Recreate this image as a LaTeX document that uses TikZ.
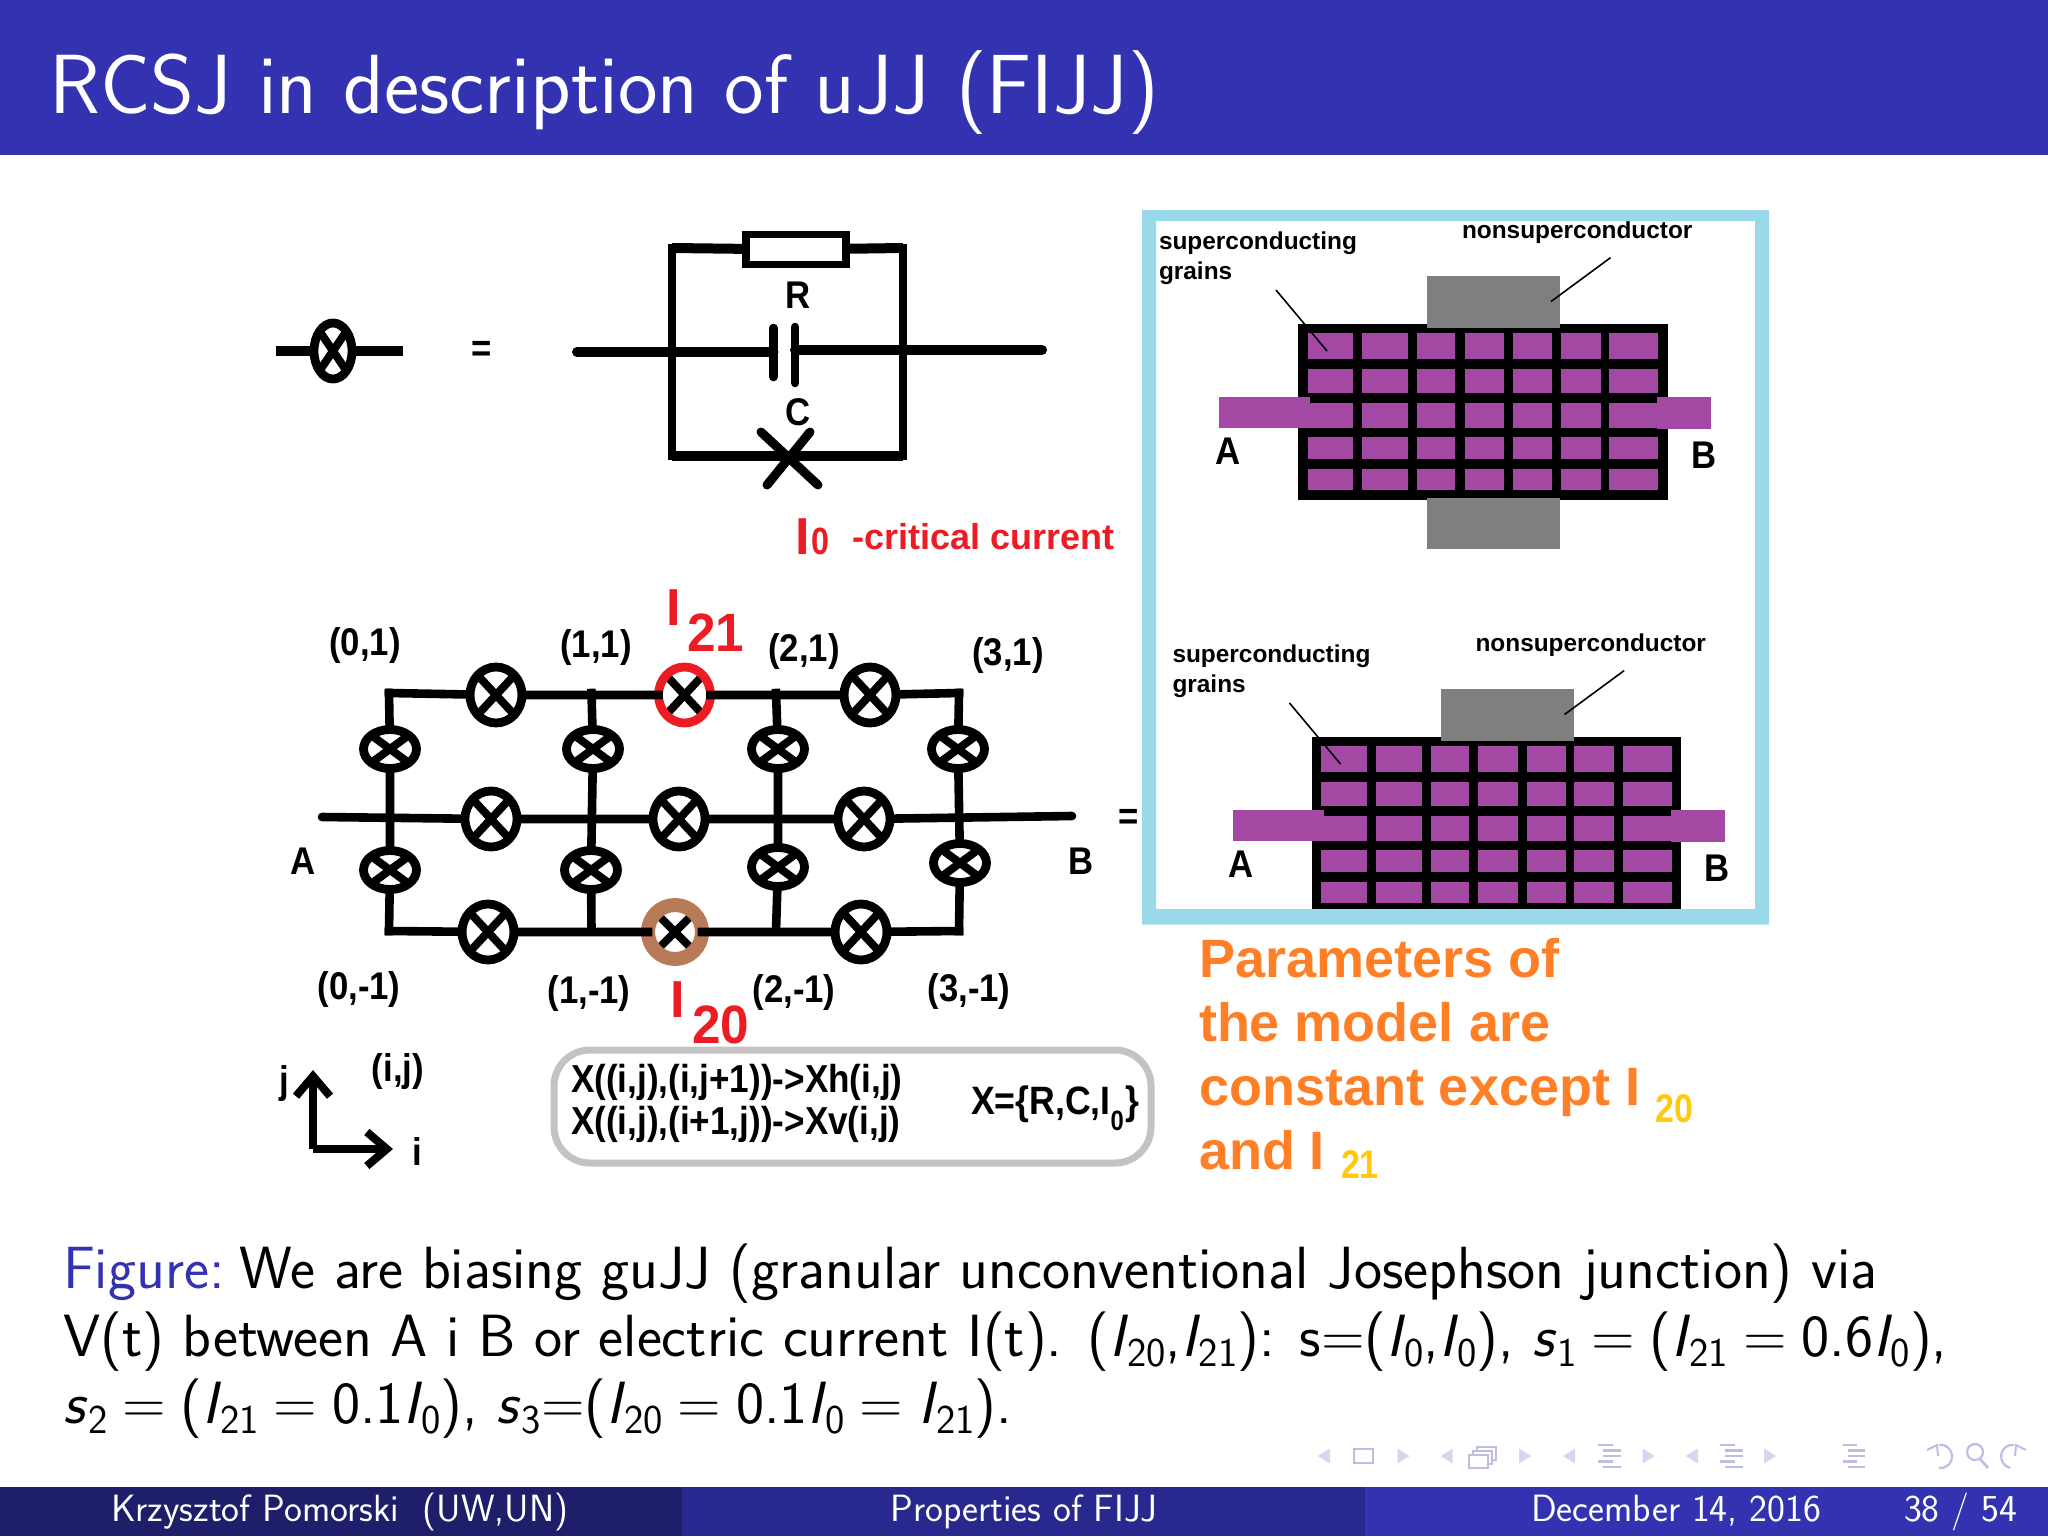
\documentclass[tikz,border=0pt]{standalone}
\usepackage{fontspec}
\usetikzlibrary{arrows.meta,shapes.geometric}
\newfontfamily\ars{Liberation Sans}
\newfontfamily\nbf[FakeStretch=0.85]{Liberation Sans}
\newfontfamily\mbf[FakeStretch=0.95]{Liberation Sans}
\newfontfamily\lbf[FakeStretch=0.9]{Liberation Sans}
\definecolor{bhead}{HTML}{3333B2}
\definecolor{bmid}{HTML}{28288E}
\definecolor{bdark}{HTML}{1E1E6B}
\definecolor{rd}{HTML}{ED1C24}
\definecolor{brn}{HTML}{B97A57}
\definecolor{cyn}{HTML}{99D9EA}
\definecolor{pur}{HTML}{A349A4}
\definecolor{gry}{HTML}{7F7F7F}
\definecolor{lgry}{HTML}{C3C3C3}
\definecolor{org}{HTML}{FF7F27}
\definecolor{yel}{HTML}{FFC90E}
\definecolor{navA}{HTML}{D6D6EE}
\definecolor{navB}{HTML}{BEBEE2}
\newcommand{\fs}[1]{\fontsize{#1}{#1}\selectfont}
\newcommand{\Ib}[1]{\textit{I}\kern-0.02em\raisebox{-0.17em}{\fs{20.5}#1}}
\newcommand{\Sb}[1]{\textit{s}\kern0.01em\raisebox{-0.17em}{\fs{20.5}#1}}
\newcommand{\eqq}{\kern.25em=\kern.25em}
\tikzset{
  x=0.5pt,y=-0.5pt,
  jjbase/.style={ellipse,draw=black,line width=4.4pt,fill=white,inner sep=0pt,outer sep=0pt,
    path picture={\draw[black,line width=4pt]
      (path picture bounding box.north west)--(path picture bounding box.south east)
      (path picture bounding box.north east)--(path picture bounding box.south west);}},
  jh/.style={jjbase,minimum width=26pt,minimum height=28pt},
  jv/.style={jjbase,minimum width=26.5pt,minimum height=19.5pt},
  js/.style={jjbase,minimum width=19pt,minimum height=28pt},
  wire/.style={line width=4.3pt,black,line cap=round},
  thin wire/.style={line width=0.8pt,black},
  lab/.style={inner sep=0pt,outer sep=0pt,font=\lbf\bfseries\fs{19.3},text=black},
  small lab/.style={inner sep=0pt,outer sep=0pt,font=\ars\bfseries\fs{12.2},text=black,align=left},
  red lab/.style={inner sep=0pt,outer sep=0pt,anchor=base west,text=rd,font=\ars\bfseries\fs{18}},
  big I/.style={inner sep=0pt,outer sep=0pt,anchor=base,text=rd,font=\ars\bfseries\fs{26}},
  big sub/.style={inner sep=0pt,outer sep=0pt,anchor=base west,text=rd,font=\mbf\bfseries\fs{27}},
  org lab/.style={inner sep=0pt,outer sep=0pt,anchor=base west,text=org,font=\ars\bfseries\fs{27}},
  cap lab/.style={inner sep=0pt,outer sep=0pt,anchor=base west,text=black,font=\sffamily\fs{29.8}},
  foot lab/.style={inner sep=0pt,outer sep=0pt,anchor=base,text=white,font=\sffamily\fs{19}},
}
\begin{document}
\begin{tikzpicture}
\useasboundingbox (0,0) rectangle (2048,1536);
\fill[white] (0,0) rectangle (2048,1536);
% header
\fill[bhead] (0,0) rectangle (2048,155);
\node[inner sep=0pt,anchor=base west,text=white,font=\sffamily\fs{42}] (title) at (49,113) {RCSJ in description of uJJ (FIJJ)};

% ---------- single junction and its equivalent circuit
\coordinate (sl) at (276,351); \coordinate (sr) at (403,351);
\node[js] (sj) at (333,351) {};
\draw[line width=5pt] (sl) -- (sj) -- (sr);
\node[lab] (eq1) at (482,351) {=};
\coordinate (ctl) at (672,248); \coordinate (ctr) at (903,248);
\coordinate (cbl) at (672,456); \coordinate (cbr) at (903,456);
\node[draw=black,fill=white,line width=3.6pt,inner sep=0pt,outer sep=0pt,minimum width=50pt,minimum height=15pt] (res) at (796,249.5) {};
\draw[line width=5pt] (ctl) -- (res) -- (ctr);
\draw[line width=4.2pt,line cap=rect] (ctl) -- (cbl) (ctr) -- (cbr);
\draw[line width=5pt] (cbl) -- (cbr);
\coordinate (p1t) at (773.5,328); \coordinate (p1b) at (773.5,377);
\coordinate (p2t) at (795,327); \coordinate (p2b) at (795,383);
\coordinate (wl) at (577,352); \coordinate (wr) at (1042,350);
\draw[wire,line width=5pt] (wl) -- (p1t |- wl);
\draw[wire,line width=5pt] (p2t |- wr) -- (wr);
\draw[wire] (p1t) -- (p1b) (p2t) -- (p2b);
\coordinate (xa) at (761,432); \coordinate (xb) at (818,485);
\coordinate (xc) at (810,432); \coordinate (xd) at (767,485);
\draw[wire,line width=4.5pt] (xa) -- (xb) (xc) -- (xd);
\node[lab] (lR) at (798,295) {R};
\node[lab] (lC) at (798,412) {C};
\node[big I] (I0) at (803,554) {I};
\node[inner sep=0pt,anchor=base west,text=rd,font=\nbf\bfseries\fs{19}] (I0s) at (811,554) {0};
\node[red lab] (crit) at (852,549) {-critical current};

% ---------- junction network
\foreach \n/\x/\y in {a/496/695,c/870/695,d/491/819,e/679/819,f/864/819,g/488/932,i/861/932}
  \node[jh] (\n) at (\x,\y) {};
\foreach \n/\x/\y in {va/390/749,vb/593/749,vc/778/749,vd/958/749,ve/390/870,vf/591/870,vg/778/867,vh/960/863}
  \node[jv] (\n) at (\x,\y) {};
\node[jh,draw=rd] (b) at (684.5,695) {};
\node[jjbase,draw=brn,line width=7pt,minimum width=27pt,minimum height=27pt] (h) at (675,932) {};
\coordinate (t0) at (389,693); \coordinate (t1) at (591.5,693); \coordinate (t2) at (776,693); \coordinate (t3) at (959,693);
\coordinate (b0) at (389,931); \coordinate (b1) at (591.5,931); \coordinate (b2) at (776,931); \coordinate (b3) at (959,931);
\coordinate (ml) at (322,817); \coordinate (mr) at (1072,816);
\draw[wire,line cap=rect] (t0) -- (a) (a) -- (b) (b) -- (c) (c) -- (t3);
\draw[wire] (ml) -- (d) (d) -- (e) (e) -- (f) (f) -- (mr);
\draw[wire,line cap=rect] (b0) -- (g) (g) -- (h) (h) -- (i) (i) -- (b3);
\draw[wire,line cap=rect] (t0) -- (va) -- (ve) -- (b0);
\draw[wire,line cap=rect] (t1) -- (vb) -- (vf) -- (b1);
\draw[wire,line cap=rect] (t2) -- (vc) -- (vg) -- (b2);
\draw[wire,line cap=rect] (t3) -- (vd) -- (vh) -- (b3);
\node[lab] (n01) at (365,646) {(0,1)};
\node[lab] (n11) at (596,648) {(1,1)};
\node[lab] (n21) at (804,652) {(2,1)};
\node[lab] (n31) at (1008,656) {(3,1)};
\node[lab] (n0m) at (359,990) {(0,-1)};
\node[lab] (n1m) at (589,994) {(1,-1)};
\node[lab] (n2m) at (794,993) {(2,-1)};
\node[lab] (n3m) at (969,992) {(3,-1)};
\node[lab] (nA) at (303,861) {A};
\node[lab] (nB) at (1081,861) {B};
\node[lab] (eq2) at (1129,819) {=};
\node[big I] (I21) at (674,625) {I};
\node[big sub] (I21s) at (687,651) {21};
\node[big I] (I20) at (678,1017) {I};
\node[big sub] (I20s) at (692,1043) {20};

% ---------- axes
\coordinate (ao) at (313,1149); \coordinate (aj) at (313,1070); \coordinate (ai) at (393,1149);
\draw[wire,line cap=butt,-{Straight Barb[length=10pt,width=17pt,line width=4pt]}] (ao) -- (aj);
\draw[wire,line cap=butt,-{Straight Barb[length=10pt,width=17pt,line width=4pt]}] (ao) -- (ai);
\node[lab] (lj) at (284,1084) {j};
\node[lab] (lij) at (398,1072) {(i,j)};
\node[lab] (li) at (417.5,1151) {i};

% ---------- index box
\node[draw=lgry,line width=3.5pt,rounded corners=18pt,inner sep=0pt,minimum width=298.5pt,minimum height=56.5pt] (xbox) at (852.5,1106.5) {};
\node[lab,anchor=west,font=\lbf\bfseries\fs{19.5}] (x1) at (571,1082) {X((i,j),(i,j+1))->Xh(i,j)};
\node[lab,anchor=west,font=\lbf\bfseries\fs{19.5}] (x2) at (571,1124) {X((i,j),(i+1,j))->Xv(i,j)};
\node[lab,anchor=base west,font=\lbf\bfseries\fs{19.8}] (x3) at (971,1114) {X=\{R,C,I\raisebox{-8pt}{\nbf\fs{14}0}\kern1pt\}};

% ---------- grain panels
\foreach \dx/\dy/\s in {0/0/a,13.5/413/b}{
\begin{scope}[shift={(\dx,\dy)}]
  \fill[black] (1298,323.6) rectangle (1667.5,499.7);
  \foreach \xa/\xb in {1307.6/1353,1362/1408,1417/1455,1464.6/1504,1513/1552,1560.6/1600.5,1609/1658}
    \foreach \ya/\yb in {332.6/358.6,368.5/392.5,403/428,437.4/458.6,469/490}
      \fill[pur] (\xa,\ya) rectangle (\xb,\yb);
  \fill[pur] (1219,397) rectangle (1310,428);
  \fill[pur] (1300,403) rectangle (1353,428);
  \fill[pur] (1657,397) rectangle (1711,429);
  \fill[gry] (1427,276) rectangle (1560,328);
  \node[small lab,anchor=base west] (sg1\s) at (1159,249) {superconducting};
  \node[small lab,anchor=base west] (sg2\s) at (1159,279) {grains};
  \node[small lab,anchor=base west] (ns\s) at (1462,238) {nonsuperconductor};
  \coordinate (sgf\s) at (1276,290); \coordinate (sgt\s) at (1327,351);
  \coordinate (nsf\s) at (1610.6,257.6); \coordinate (nst\s) at (1551,301.5);
  \draw[thin wire] (sgf\s) -- (sgt\s);
  \draw[thin wire] (nsf\s) -- (nst\s);
  \node[lab] (pA\s) at (1227.6,451.5) {A};
  \node[lab] (pB\s) at (1703.7,455) {B};
\end{scope}}
\fill[gry] (1427,498) rectangle (1560,549);
\fill[cyn,even odd rule] (1142,210) rectangle (1769,924.5) (1156,221) rectangle (1755,909);

% ---------- orange text
\node[org lab] (o1) at (1199,977) {Parameters of};
\node[org lab] (o2) at (1199,1041) {the model are};
\node[org lab] (o3) at (1199,1105) {constant except I\kern7.5pt\raisebox{-8.5pt}{\color{yel}\nbf\fs{20}20}};
\node[org lab] (o4) at (1199,1169) {and I\kern8pt\raisebox{-4.5pt}{\color{yel}\nbf\fs{20}21}};

% ---------- caption
\node[cap lab] (c1) at (63,1288) {{\color{bhead}Figure:}\kern-2pt\ We are biasing guJJ (granular unconventional Josephson junction) via};
\node[cap lab] (c2) at (63,1356) {V(t) between A i B or electric current I(t). (\Ib{20},\Ib{21}): s=(\Ib{0},\Ib{0}), \Sb{1}\eqq(\Ib{21}\eqq0.6\Ib{0}),};
\node[cap lab] (c3) at (63,1423) {\Sb{2}\eqq(\Ib{21}\eqq0.1\Ib{0}), \Sb{3}=(\Ib{20}\eqq0.1\Ib{0}\eqq\Ib{21}).};

% ---------- navigation symbols
\foreach \x in {1324,1446.7,1569,1692}
  \fill[navA] (\x+6,1448.5) -- (\x-6,1456) -- (\x+6,1463.5) -- cycle;
\foreach \x in {1403.5,1525,1648.6,1770}
  \fill[navA] (\x-6,1448.5) -- (\x+6,1456) -- (\x-6,1463.5) -- cycle;
\draw[navB,line width=1pt] (1353.5,1449) rectangle (1373,1463);
\foreach \o in {8,4}
  \draw[navB,line width=0.8pt,fill=white] (1468.7+\o,1455-\o) rectangle (1488+\o,1468-\o);
\draw[navB,line width=1pt,fill=white] (1468.7,1455) rectangle (1488,1468);
\foreach \xa/\xb in {1597.6/1620.7,1720/1743,1843/1865}{
  \foreach \yy/\sa/\sb in {1445/0/-8,1450.5/5/0,1456/5/0,1461.5/0/-8,1467/5/0}
    \fill[navB] (\xa+\sa,\yy-1.3) rectangle (\xb+\sb,\yy+1.3);
}
\draw[navB,line width=1.1pt] (1939,1445) arc (100:-100:5.5pt and 5.8pt);
\draw[navB,line width=1pt] (1927,1450) -- (1937,1445) -- (1938,1456);
\draw[navB,line width=1.1pt] (1975,1452) circle (4pt);
\draw[navB,line width=1.3pt] (1980,1459) -- (1988,1468);
\draw[navB,line width=1.1pt] (2014,1445) arc (80:260:5.5pt and 5.8pt);
\draw[navB,line width=1pt] (2026,1450) -- (2016,1445) -- (2015,1456);

% ---------- footer
\fill[bdark] (0,1487) rectangle (682,1536);
\fill[bmid] (682,1487) rectangle (1365,1536);
\fill[bhead] (1365,1487) rectangle (2048,1536);
\node[foot lab,anchor=base west] (f1) at (111,1521.5) {Krzysztof Pomorski\ \ (UW,UN)};
\node[foot lab] (f2) at (1024,1521.5) {Properties of FIJJ};
\node[foot lab,anchor=base west] (f3) at (1531,1521.5) {December 14, 2016};
\node[foot lab,anchor=base west] (f4) at (1904,1521.5) {38 / 54};
\end{tikzpicture}
\end{document}
